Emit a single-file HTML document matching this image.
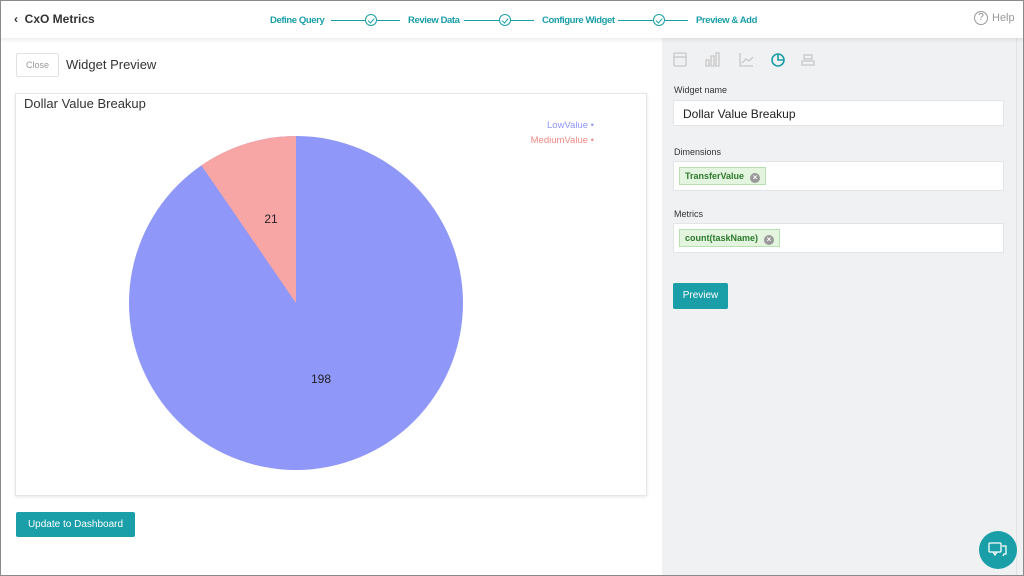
<!DOCTYPE html>
<html><head><meta charset="utf-8"><style>
*{box-sizing:border-box;margin:0;padding:0}
body{width:1024px;height:576px;overflow:hidden;font-family:"Liberation Sans",sans-serif;background:#fff;position:relative}
.frame{position:absolute;inset:0;border:1px solid #8a8a8a;z-index:10;pointer-events:none}
.top{position:absolute;left:0;top:0;width:1024px;height:38px;background:#fff;box-shadow:0 2px 4px rgba(0,0,0,.08);z-index:5}
.abs{position:absolute;white-space:nowrap}
.step{color:#1a9ea8;font-size:9.5px;font-weight:bold;top:15px;letter-spacing:-0.4px}
.line{position:absolute;height:1px;background:#1a9ea8;top:20px}
.chk{position:absolute;top:14px;width:12px;height:12px;border:1px solid #1a9ea8;border-radius:50%;background:#fff}
.chk:after{content:"";position:absolute;left:3px;top:2px;width:3px;height:5px;border:solid #1a9ea8;border-width:0 1px 1px 0;transform:rotate(40deg)}
.right{position:absolute;left:662px;top:38px;width:362px;height:538px;background:#f0f1f3}
.lbl{font-size:9px;color:#333}
.inp{position:absolute;left:673px;width:331px;background:#fff;border:1px solid #e3e4e6}
.tag{position:absolute;background:#e3f4df;border:1px solid #b9e0b1;color:#2d7a2d;font-size:9px;font-weight:bold;padding:3px 5px;height:18px}
.x{display:inline-block;width:10px;height:10px;border-radius:50%;background:#999;color:#fff;font-size:8px;line-height:10px;text-align:center;margin-left:6px;vertical-align:-1px}
</style></head><body>
<div class="frame"></div>
<div class="top">
<div class="abs" style="left:14px;top:12px;font-size:12px;font-weight:bold;color:#333">&#8249;&nbsp; CxO Metrics</div>
<div class="abs step" style="left:270px">Define Query</div>
<div class="line" style="left:331px;width:35px"></div><div class="chk" style="left:365px"></div><div class="line" style="left:377px;width:23px"></div>
<div class="abs step" style="left:408px">Review Data</div>
<div class="line" style="left:464px;width:36px"></div><div class="chk" style="left:499px"></div><div class="line" style="left:511px;width:23px"></div>
<div class="abs step" style="left:542px">Configure Widget</div>
<div class="line" style="left:618px;width:35px"></div><div class="chk" style="left:653px"></div><div class="line" style="left:665px;width:23px"></div>
<div class="abs step" style="left:696px">Preview &amp; Add</div>
<div class="abs" style="left:974px;top:11px;width:14px;height:14px;border:1px solid #999;border-radius:50%;font-size:10px;color:#888;text-align:center;line-height:12px">?</div>
<div class="abs" style="left:992px;top:12px;font-size:11px;color:#999">Help</div>
</div>
<div class="abs" style="left:16px;top:53px;width:43px;height:24px;border:1px solid #e2e2e2;border-radius:2px;font-size:9px;color:#999;text-align:center;line-height:22px">Close</div>
<div class="abs" style="left:66px;top:57px;font-size:13px;color:#333">Widget Preview</div>
<div class="abs" style="left:15px;top:93px;width:632px;height:403px;border:1px solid #e6e6e6;box-shadow:0 1px 3px rgba(0,0,0,.1)"></div>
<div class="abs" style="left:24px;top:96px;font-size:13px;color:#333">Dollar Value Breakup</div>
<div class="abs" style="right:430px;top:120px;font-size:9.5px;color:#8f97f8">LowValue •</div>
<div class="abs" style="right:430px;top:135px;font-size:9.5px;color:#f08a85">MediumValue •</div>
<svg class="abs" style="left:0;top:0" width="662" height="576">
<circle cx="296" cy="303" r="167" fill="#8f97f8"/>
<path d="M296 303 L296 136 A167 167 0 0 0 201.4 165.4 Z" fill="#f8a5a5"/>
<text x="271" y="223" font-size="12" text-anchor="middle" fill="#222" font-family="Liberation Sans">21</text>
<text x="321" y="383" font-size="12" text-anchor="middle" fill="#222" font-family="Liberation Sans">198</text>
</svg>
<div class="abs" style="left:16px;top:512px;width:119px;height:25px;background:#1a9ea8;border-radius:2px;color:#fff;font-size:10px;text-align:center;line-height:25px">Update to Dashboard</div>
<div class="right"></div>
<svg class="abs" style="left:670px;top:50px" width="150" height="20" fill="none" stroke="#c8c8c8" stroke-width="1.3">
<rect x="4" y="3" width="12" height="13" rx="1"/><line x1="4" y1="7" x2="16" y2="7"/>
<rect x="36" y="10" width="3" height="6"/><rect x="41" y="6" width="3" height="10"/><rect x="46" y="3" width="3" height="13"/>
<path d="M70 3 V16 H83 M72 13 L76 9 L79 11 L83 7"/>
<circle cx="108" cy="10" r="6" stroke="#1a9ea8" stroke-width="1.6"/><path d="M108 4 V10 H114" stroke="#1a9ea8" stroke-width="1.6"/>
<rect x="134" y="5" width="8" height="4"/><rect x="132" y="11" width="12" height="4"/>
</svg>
<div class="abs lbl" style="left:674px;top:85px">Widget name</div>
<div class="inp" style="top:100px;height:26px"></div>
<div class="abs" style="left:683px;top:107px;font-size:12px;color:#222">Dollar Value Breakup</div>
<div class="abs lbl" style="left:674px;top:147px">Dimensions</div>
<div class="inp" style="top:161px;height:30px"></div>
<div class="tag" style="left:679px;top:167px">TransferValue<span class="x">×</span></div>
<div class="abs lbl" style="left:674px;top:209px">Metrics</div>
<div class="inp" style="top:223px;height:30px"></div>
<div class="tag" style="left:679px;top:229px">count(taskName)<span class="x">×</span></div>
<div class="abs" style="left:673px;top:283px;width:55px;height:26px;background:#1a9ea8;border-radius:2px;color:#fff;font-size:10px;text-align:center;line-height:26px">Preview</div>
<div class="abs" style="left:1016px;top:38px;width:1px;height:538px;background:#e2e2e2"></div>
<div class="abs" style="left:979px;top:531px;width:38px;height:38px;border-radius:50%;background:#1a9ea8"></div>
<svg class="abs" style="left:987px;top:540px" width="22" height="20" fill="none" stroke="#fff" stroke-width="1.3"><rect x="2" y="3" width="12" height="9" rx="1"/><path d="M6 12 L8 15 L10 12"/><path d="M15 6 H19 V14 H17 L16 16"/></svg>
</body></html>
